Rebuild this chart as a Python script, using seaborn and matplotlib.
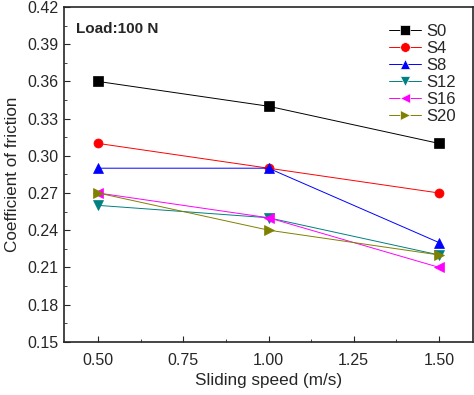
import pandas as pd
import matplotlib.pyplot as plt
import seaborn as sns
from matplotlib.ticker import MultipleLocator, AutoMinorLocator

# data
speeds = [0.5, 1.0, 1.5]
samples = ['S0', 'S4', 'S8', 'S12', 'S16', 'S20']
s0 = [0.36, 0.34, 0.31]
s4 = [0.31, 0.29, 0.27]
s8 = [0.29, 0.29, 0.23]
s12 = [0.26, 0.25, 0.22]
s16 = [0.27, 0.25, 0.21]
s20 = [0.27, 0.24, 0.22]

values = [s0, s4, s8, s12, s16, s20]
rows = []
for name, vals in zip(samples, values):
    for sp, v in zip(speeds, vals):
        rows.append({'speed': sp, 'cof': v, 'sample': name})
df = pd.DataFrame(rows)

colors = ['black', 'red', 'blue', '#008080', 'magenta', '#808000']
markers = ['s', 'o', '^', 'v', '<', '>']

sns.set_style('ticks')
plt.rcParams['font.family'] = ['Liberation Sans', 'DejaVu Sans']

fig = plt.figure(figsize=(4.74, 3.95), dpi=100)
ax = fig.add_axes([0.135, 0.135, 0.863, 0.847])

sns.lineplot(
    data=df, x='speed', y='cof', hue='sample', style='sample',
    palette=colors, markers=markers, dashes=False,
    markersize=6.5, linewidth=0.7, markeredgewidth=0.5, ax=ax
)
for line, c in zip(ax.lines, colors):
    line.set_markeredgecolor(c)

ax.set_xlim(0.4, 1.6)
ax.set_ylim(0.15, 0.42)
ax.xaxis.set_major_locator(MultipleLocator(0.25))
ax.yaxis.set_major_locator(MultipleLocator(0.03))
ax.xaxis.set_minor_locator(AutoMinorLocator(2))
ax.yaxis.set_minor_locator(AutoMinorLocator(2))
ax.xaxis.set_major_formatter(plt.FormatStrFormatter('%.2f'))
ax.yaxis.set_major_formatter(plt.FormatStrFormatter('%.2f'))
ax.tick_params(which='both', direction='in', top=False, right=False, labelsize=11.5)
ax.tick_params(axis='x', which='major', length=4, pad=8)
ax.tick_params(axis='y', which='major', length=4, pad=4)
ax.tick_params(which='minor', length=2)
for sp in ax.spines.values():
    sp.set_linewidth(1.2)

ax.set_xlabel('Sliding speed (m/s)', fontsize=12.3, labelpad=4)
ax.set_ylabel('Coefficient of friction', fontsize=12.3, labelpad=5)
ax.text(0.03, 0.955, 'Load:100 N', transform=ax.transAxes, fontsize=11,
        fontweight='bold', va='top')

leg = ax.legend(loc='upper right', frameon=False, fontsize=12,
                handlelength=1.9, labelspacing=0.12, borderaxespad=0.6,
                handletextpad=0.35)
for h in leg.legend_handles:
    h.set_markersize(7)

fig.savefig('out.png', dpi=100)
